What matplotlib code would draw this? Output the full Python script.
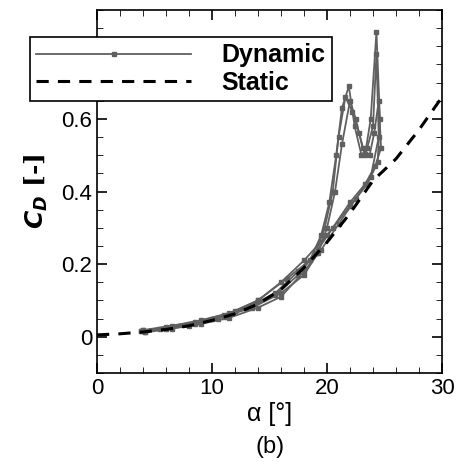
import matplotlib
matplotlib.use('Agg')
import matplotlib.pyplot as plt
import numpy as np

static_alpha = [0, 2, 4, 6, 8, 10, 12, 14, 16, 18, 20, 22, 24, 26, 28, 30]
static_cd = [0.005, 0.008, 0.013, 0.02, 0.03, 0.045, 0.063, 0.09, 0.13, 0.19, 0.26, 0.34, 0.43, 0.49, 0.57, 0.66]

# three dynamic cycles (alpha, CD)
dyn_alpha = [
    [3.8, 6, 8, 10, 12, 14, 16, 18, 20, 22, 23.5, 24.4, 24.6, 24.3, 23.8, 23.3, 22.8, 22.2, 21.6, 21.0, 20.5, 19.8, 19, 17.5, 15.5, 13, 10.5, 8, 5.5, 3.8],
    [4.2, 6.5, 9, 11.5, 14, 16, 18, 19.5, 21, 22.5, 23.8, 24.5, 24.3, 24.0, 23.5, 23.0, 22.4, 21.9, 21.3, 20.8, 20.2, 19.5, 18.5, 16.5, 14, 11.5, 9, 6.5, 4.2],
    [4.0, 6, 8.5, 11, 13.5, 15.5, 17.5, 19, 20.5, 22, 23.3, 24.2, 24.7, 24.5, 24.1, 23.7, 23.1, 22.5, 22.0, 21.3, 20.7, 20.0, 19.2, 18, 16, 13.5, 11, 8.5, 6, 4.0],
]
dyn_cd = [
    [0.015, 0.025, 0.035, 0.05, 0.07, 0.1, 0.15, 0.21, 0.28, 0.36, 0.42, 0.48, 0.6, 0.84, 0.6, 0.5, 0.56, 0.62, 0.66, 0.55, 0.4, 0.3, 0.23, 0.18, 0.12, 0.08, 0.05, 0.03, 0.02, 0.015],
    [0.012, 0.022, 0.035, 0.052, 0.08, 0.11, 0.18, 0.24, 0.31, 0.38, 0.44, 0.55, 0.78, 0.58, 0.52, 0.5, 0.58, 0.69, 0.63, 0.5, 0.37, 0.28, 0.21, 0.16, 0.1, 0.065, 0.045, 0.03, 0.012],
    [0.018, 0.028, 0.04, 0.06, 0.085, 0.115, 0.17, 0.23, 0.3, 0.37, 0.42, 0.47, 0.52, 0.65, 0.56, 0.5, 0.52, 0.6, 0.65, 0.53, 0.4, 0.3, 0.23, 0.17, 0.12, 0.08, 0.055, 0.035, 0.022, 0.018],
]

plt.rcParams['font.family'] = ['Liberation Sans', 'DejaVu Sans']
fig = plt.figure(figsize=(4.74, 4.74), dpi=100)
ax = fig.add_axes([97 / 474, 1 - 373 / 474, 345 / 474, 363 / 474])

for i, (a, c) in enumerate(zip(dyn_alpha, dyn_cd)):
    ax.plot(a, c, '-s', color='#606060', lw=1.3, ms=2.2, label='Dynamic' if i == 0 else None)
ax.plot(static_alpha, static_cd, '--', color='black', lw=2.2, dashes=(4, 3), label='Static')

ax.set_xlim(0, 30)
ax.set_ylim(-0.1, 0.9)
ax.set_xticks([0, 10, 20, 30])
ax.set_yticks([0, 0.2, 0.4, 0.6])
ax.set_yticklabels(['0', '0.2', '0.4', '0.6'])
ax.set_xticks(np.arange(0, 31, 2), minor=True)
ax.set_yticks(np.arange(-0.1, 0.91, 0.05), minor=True)
ax.tick_params(which='both', direction='in', top=True, right=True, labelsize=16)
ax.tick_params(which='major', length=7, width=1.2)
ax.tick_params(which='minor', length=4)
for s in ax.spines.values():
    s.set_linewidth(1.2)

ax.set_xlabel('α [°]', fontsize=18, labelpad=2)
ax.set_ylabel(r'$\mathbfit{C}_{\mathbfit{D}}$ [-]', fontsize=18, fontweight='bold', family='DejaVu Serif', labelpad=8)
fig.text(270 / 474, 1 - 447 / 474, '(b)', fontsize=17, ha='center', va='center')

leg = ax.legend(loc='upper left', bbox_to_anchor=(-0.23, 0.96), frameon=True,
                fancybox=False, edgecolor='black', framealpha=1, handlelength=6.2,
                borderpad=0.25, labelspacing=0.15, handletextpad=1.2,
                prop={'weight': 'bold', 'size': 18})
leg.get_frame().set_linewidth(1.2)

fig.savefig('out.png', dpi=100)
